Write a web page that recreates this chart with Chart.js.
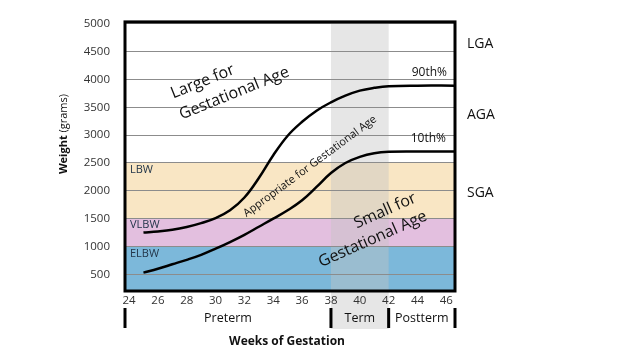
<!DOCTYPE html>
<html>
<head>
<meta charset="utf-8">
<script src="https://cdn.jsdelivr.net/npm/chart.js@4.4.1/dist/chart.umd.min.js"></script>
<style>
  html, body { margin: 0; padding: 0; background: #fff; }
  #wrap { width: 638px; height: 359px; }
</style>
</head>
<body>
<div id="wrap"><canvas id="grafico" width="638" height="359"></canvas></div>
<script>
// === Dados ===
const weeks = [25, 26, 27, 28, 29, 30, 31, 32, 33, 34, 35, 36, 37, 38, 39, 40, 41, 42, 44, 46.6];
const p90 = [1250, 1270, 1300, 1350, 1420, 1510, 1650, 1880, 2230, 2640, 2990, 3240, 3440, 3590, 3710, 3800, 3850, 3880, 3890, 3890];
const p10 = [530, 600, 680, 760, 850, 960, 1080, 1210, 1355, 1500, 1650, 1830, 2070, 2320, 2500, 2610, 2675, 2700, 2705, 2705];

const xTicks = [24, 26, 28, 30, 32, 34, 36, 38, 40, 42, 44, 46];
const yTicks = [500, 1000, 1500, 2000, 2500, 3000, 3500, 4000, 4500, 5000];

// faixas de peso
const bandLabels = ["ELBW", "VLBW", "LBW"];
const bandFrom = [0, 1000, 1500];
const bandTo = [1000, 1500, 2500];
const bandColors = ["#7cb8da", "#e3bfdf", "#f9e6c4"];

const termFrom = 38;
const termTo = 42;
const periodLabels = ["Preterm", "Term", "Postterm"];
const sideLabels = ["LGA", "AGA", "SGA"];

const FONT = "'Open Sans', 'Noto Sans', sans-serif";

function rotText(ctx, text, x, y, angle, font, color) {
  ctx.save();
  ctx.translate(x, y);
  ctx.rotate(angle * Math.PI / 180);
  ctx.font = font;
  ctx.fillStyle = color;
  ctx.textAlign = "center";
  ctx.textBaseline = "middle";
  ctx.fillText(text, 0, 0);
  ctx.restore();
}

// fundo: faixas e área "Term"; depois textos e bordas
const fundoPlugin = {
  id: "fundo",
  beforeDraw(chart) {
    const { ctx, chartArea: a, scales: { x, y } } = chart;
    ctx.save();
    bandLabels.forEach((lbl, i) => {
      const top = y.getPixelForValue(bandTo[i]);
      const bot = Math.min(a.bottom, y.getPixelForValue(bandFrom[i]));
      ctx.fillStyle = bandColors[i];
      ctx.fillRect(a.left, top, a.right - a.left, bot - top);
    });
    const tx1 = x.getPixelForValue(termFrom);
    const tx2 = x.getPixelForValue(termTo);
    ctx.fillStyle = "rgba(195,195,195,0.42)";
    ctx.fillRect(tx1, a.top, tx2 - tx1, a.bottom - a.top + 38);
    ctx.restore();
  },
  afterDraw(chart) {
    const { ctx, chartArea: a, scales: { x, y } } = chart;
    ctx.save();

    // borda grossa
    ctx.strokeStyle = "#000";
    ctx.lineWidth = 3;
    ctx.strokeRect(a.left, a.top, a.right - a.left, a.bottom - a.top);

    // rótulos das faixas
    ctx.font = "11px " + FONT;
    ctx.fillStyle = "#23364a";
    ctx.textAlign = "left";
    ctx.textBaseline = "middle";
    ctx.fillText(bandLabels[2], a.left + 5, y.getPixelForValue(2370));
    ctx.fillText(bandLabels[1], a.left + 5, y.getPixelForValue(1380));
    ctx.fillText(bandLabels[0], a.left + 5, y.getPixelForValue(870));

    // percentis
    ctx.font = "12px " + FONT;
    ctx.fillStyle = "#111";
    ctx.textAlign = "right";
    ctx.fillText("90th%", a.right - 8, y.getPixelForValue(4130));
    ctx.fillText("10th%", a.right - 9, y.getPixelForValue(2930));

    // textos inclinados
    const big = "16px " + FONT;
    rotText(ctx, "Large for", x.getPixelForValue(29.1), y.getPixelForValue(3960), -22, big, "#111");
    rotText(ctx, "Gestational Age", x.getPixelForValue(31.3), y.getPixelForValue(3750), -22, big, "#111");
    rotText(ctx, "Appropriate for Gestational Age", x.getPixelForValue(36.55), y.getPixelForValue(2440), -36.5, "11px " + FONT, "#111");
    rotText(ctx, "Small for", x.getPixelForValue(41.75), y.getPixelForValue(1640), -24, big, "#111");
    rotText(ctx, "Gestational Age", x.getPixelForValue(40.9), y.getPixelForValue(1130), -24, big, "#111");

    // LGA / AGA / SGA
    ctx.font = "14px " + FONT;
    ctx.fillStyle = "#111";
    ctx.textAlign = "left";
    ctx.fillText(sideLabels[0], a.right + 12, y.getPixelForValue(4630));
    ctx.fillText(sideLabels[1], a.right + 12, y.getPixelForValue(3360));
    ctx.fillText(sideLabels[2], a.right + 12, y.getPixelForValue(1960));

    // título do eixo Y (Weight em negrito)
    ctx.translate(64, 134);
    ctx.rotate(-Math.PI / 2);
    ctx.textBaseline = "middle";
    ctx.font = "bold 11px " + FONT;
    const w1 = ctx.measureText("Weight ").width;
    ctx.font = "11px " + FONT;
    const w2 = ctx.measureText("(grams)").width;
    const sx = -(w1 + w2) / 2;
    ctx.textAlign = "left";
    ctx.font = "bold 11px " + FONT;
    ctx.fillText("Weight ", sx, 0);
    ctx.font = "11px " + FONT;
    ctx.fillText("(grams)", sx + w1, 0);
    ctx.setTransform(1, 0, 0, 1, 0, 0);

    // barras verticais e períodos
    const bx = [a.left, x.getPixelForValue(termFrom), x.getPixelForValue(termTo), a.right];
    ctx.strokeStyle = "#000";
    ctx.lineWidth = 3;
    bx.forEach(px => {
      ctx.beginPath();
      ctx.moveTo(px, a.bottom + 17);
      ctx.lineTo(px, a.bottom + 37);
      ctx.stroke();
    });
    ctx.font = "12.5px " + FONT;
    ctx.fillStyle = "#111";
    ctx.textAlign = "center";
    ctx.textBaseline = "middle";
    periodLabels.forEach((lbl, i) => {
      ctx.fillText(lbl, (bx[i] + bx[i + 1]) / 2, a.bottom + 27);
    });

    // título do eixo X
    ctx.font = "bold 12px " + FONT;
    ctx.fillText("Weeks of Gestation", 287, a.bottom + 51);

    ctx.restore();
  }
};

const ctx = document.getElementById("grafico").getContext("2d");
new Chart(ctx, {
  type: "line",
  data: {
    datasets: [
      {
        label: "90th%",
        data: weeks.map((w, i) => ({ x: w, y: p90[i] })),
        borderColor: "#000",
        borderWidth: 2.5,
        pointRadius: 0,
        tension: 0.4,
        fill: false
      },
      {
        label: "10th%",
        data: weeks.map((w, i) => ({ x: w, y: p10[i] })),
        borderColor: "#000",
        borderWidth: 2.5,
        pointRadius: 0,
        tension: 0.4,
        fill: false
      }
    ]
  },
  options: {
    responsive: false,
    animation: false,
    layout: { padding: { top: 16, right: 183, left: 0, bottom: 0 } },
    plugins: {
      legend: { display: false },
      tooltip: { enabled: false }
    },
    scales: {
      x: {
        type: "linear",
        min: 23.72,
        max: 46.6,
        afterBuildTicks: (scale) => { scale.ticks = xTicks.map(v => ({ value: v })); },
        afterFit: (scale) => { scale.height = 68; },
        grid: { display: false, drawTicks: false },
        border: { display: false },
        ticks: {
          color: "#333",
          font: { family: FONT, size: 11.5 },
          padding: 3,
          maxRotation: 0,
          autoSkip: false,
          callback: (v) => String(v)
        }
      },
      y: {
        type: "linear",
        min: 200,
        max: 5035,
        afterBuildTicks: (scale) => { scale.ticks = yTicks.map(v => ({ value: v })); },
        afterFit: (scale) => { scale.width = 125; },
        grid: { color: "#8c8c8c", lineWidth: 1, drawTicks: false },
        border: { display: false },
        ticks: {
          color: "#333",
          font: { family: FONT, size: 11.5 },
          padding: 15,
          autoSkip: false,
          callback: (v) => String(v)
        }
      }
    }
  },
  plugins: [fundoPlugin]
});
</script>
</body>
</html>
